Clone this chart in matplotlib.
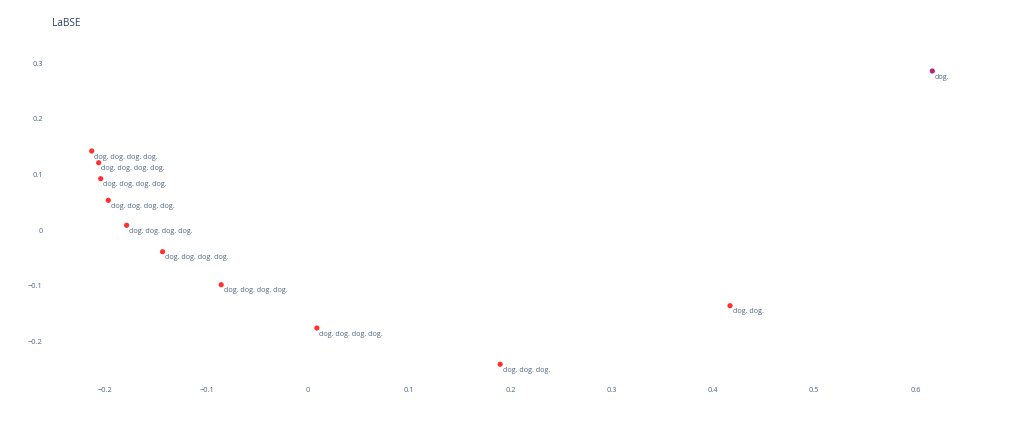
import matplotlib.pyplot as plt

plt.rcParams.update({
    'font.family': ['Open Sans', 'DejaVu Sans'],
    'axes.unicode_minus': True,
})

# LaBSE embedding projection, one point per sentence
x_vals = [-0.2136, -0.2067, -0.2047, -0.1972, -0.1791, -0.1436,
          -0.0857, 0.0088, 0.1898, 0.4168, 0.6166]
y_vals = [0.1403, 0.1192, 0.0905, 0.0516, 0.0067, -0.0408,
          -0.1002, -0.1781, -0.2433, -0.1379, 0.2842]
labels = ['dog. dog. dog. dog.'] * 8 + ['dog. dog. dog.', 'dog. dog.', 'dog.']
point_colors = ['#ff3030'] * 10 + ['#b8237a']

x_ticks = [-0.2, -0.1, 0, 0.1, 0.2, 0.3, 0.4, 0.5, 0.6]
y_ticks = [-0.2, -0.1, 0, 0.1, 0.2, 0.3]

text_c = '#506784'

fig = plt.figure(figsize=(10.24, 4.27), dpi=100)
ax = fig.add_axes([0.0486, 0.1098, 0.9048, 0.8007])

ax.scatter(x_vals, y_vals, s=14, c=point_colors, linewidths=0, zorder=3)
for xv, yv, lab in zip(x_vals, y_vals, labels):
    ax.annotate(lab, (xv, yv), xytext=(1.8, -1.2), textcoords='offset points',
                ha='left', va='top', fontsize=5.2, color=text_c)

ax.set_xlim(-0.255, 0.66)
ax.set_ylim(-0.27, 0.345)
ax.set_xticks(x_ticks)
ax.set_xticklabels([f'{t:g}'.replace('-', '\u2212') for t in x_ticks])
ax.set_yticks(y_ticks)
ax.set_yticklabels([f'{t:g}'.replace('-', '\u2212') for t in y_ticks])
ax.tick_params(length=0, labelsize=5.3, labelcolor=text_c, pad=5)
for sp in ax.spines.values():
    sp.set_visible(False)

fig.text(0.0505, 1 - 23 / 427, 'LaBSE', fontsize=7.2, color='#2a3f5f',
         ha='left', va='center')

fig.savefig('out.png', dpi=100, facecolor='white')
